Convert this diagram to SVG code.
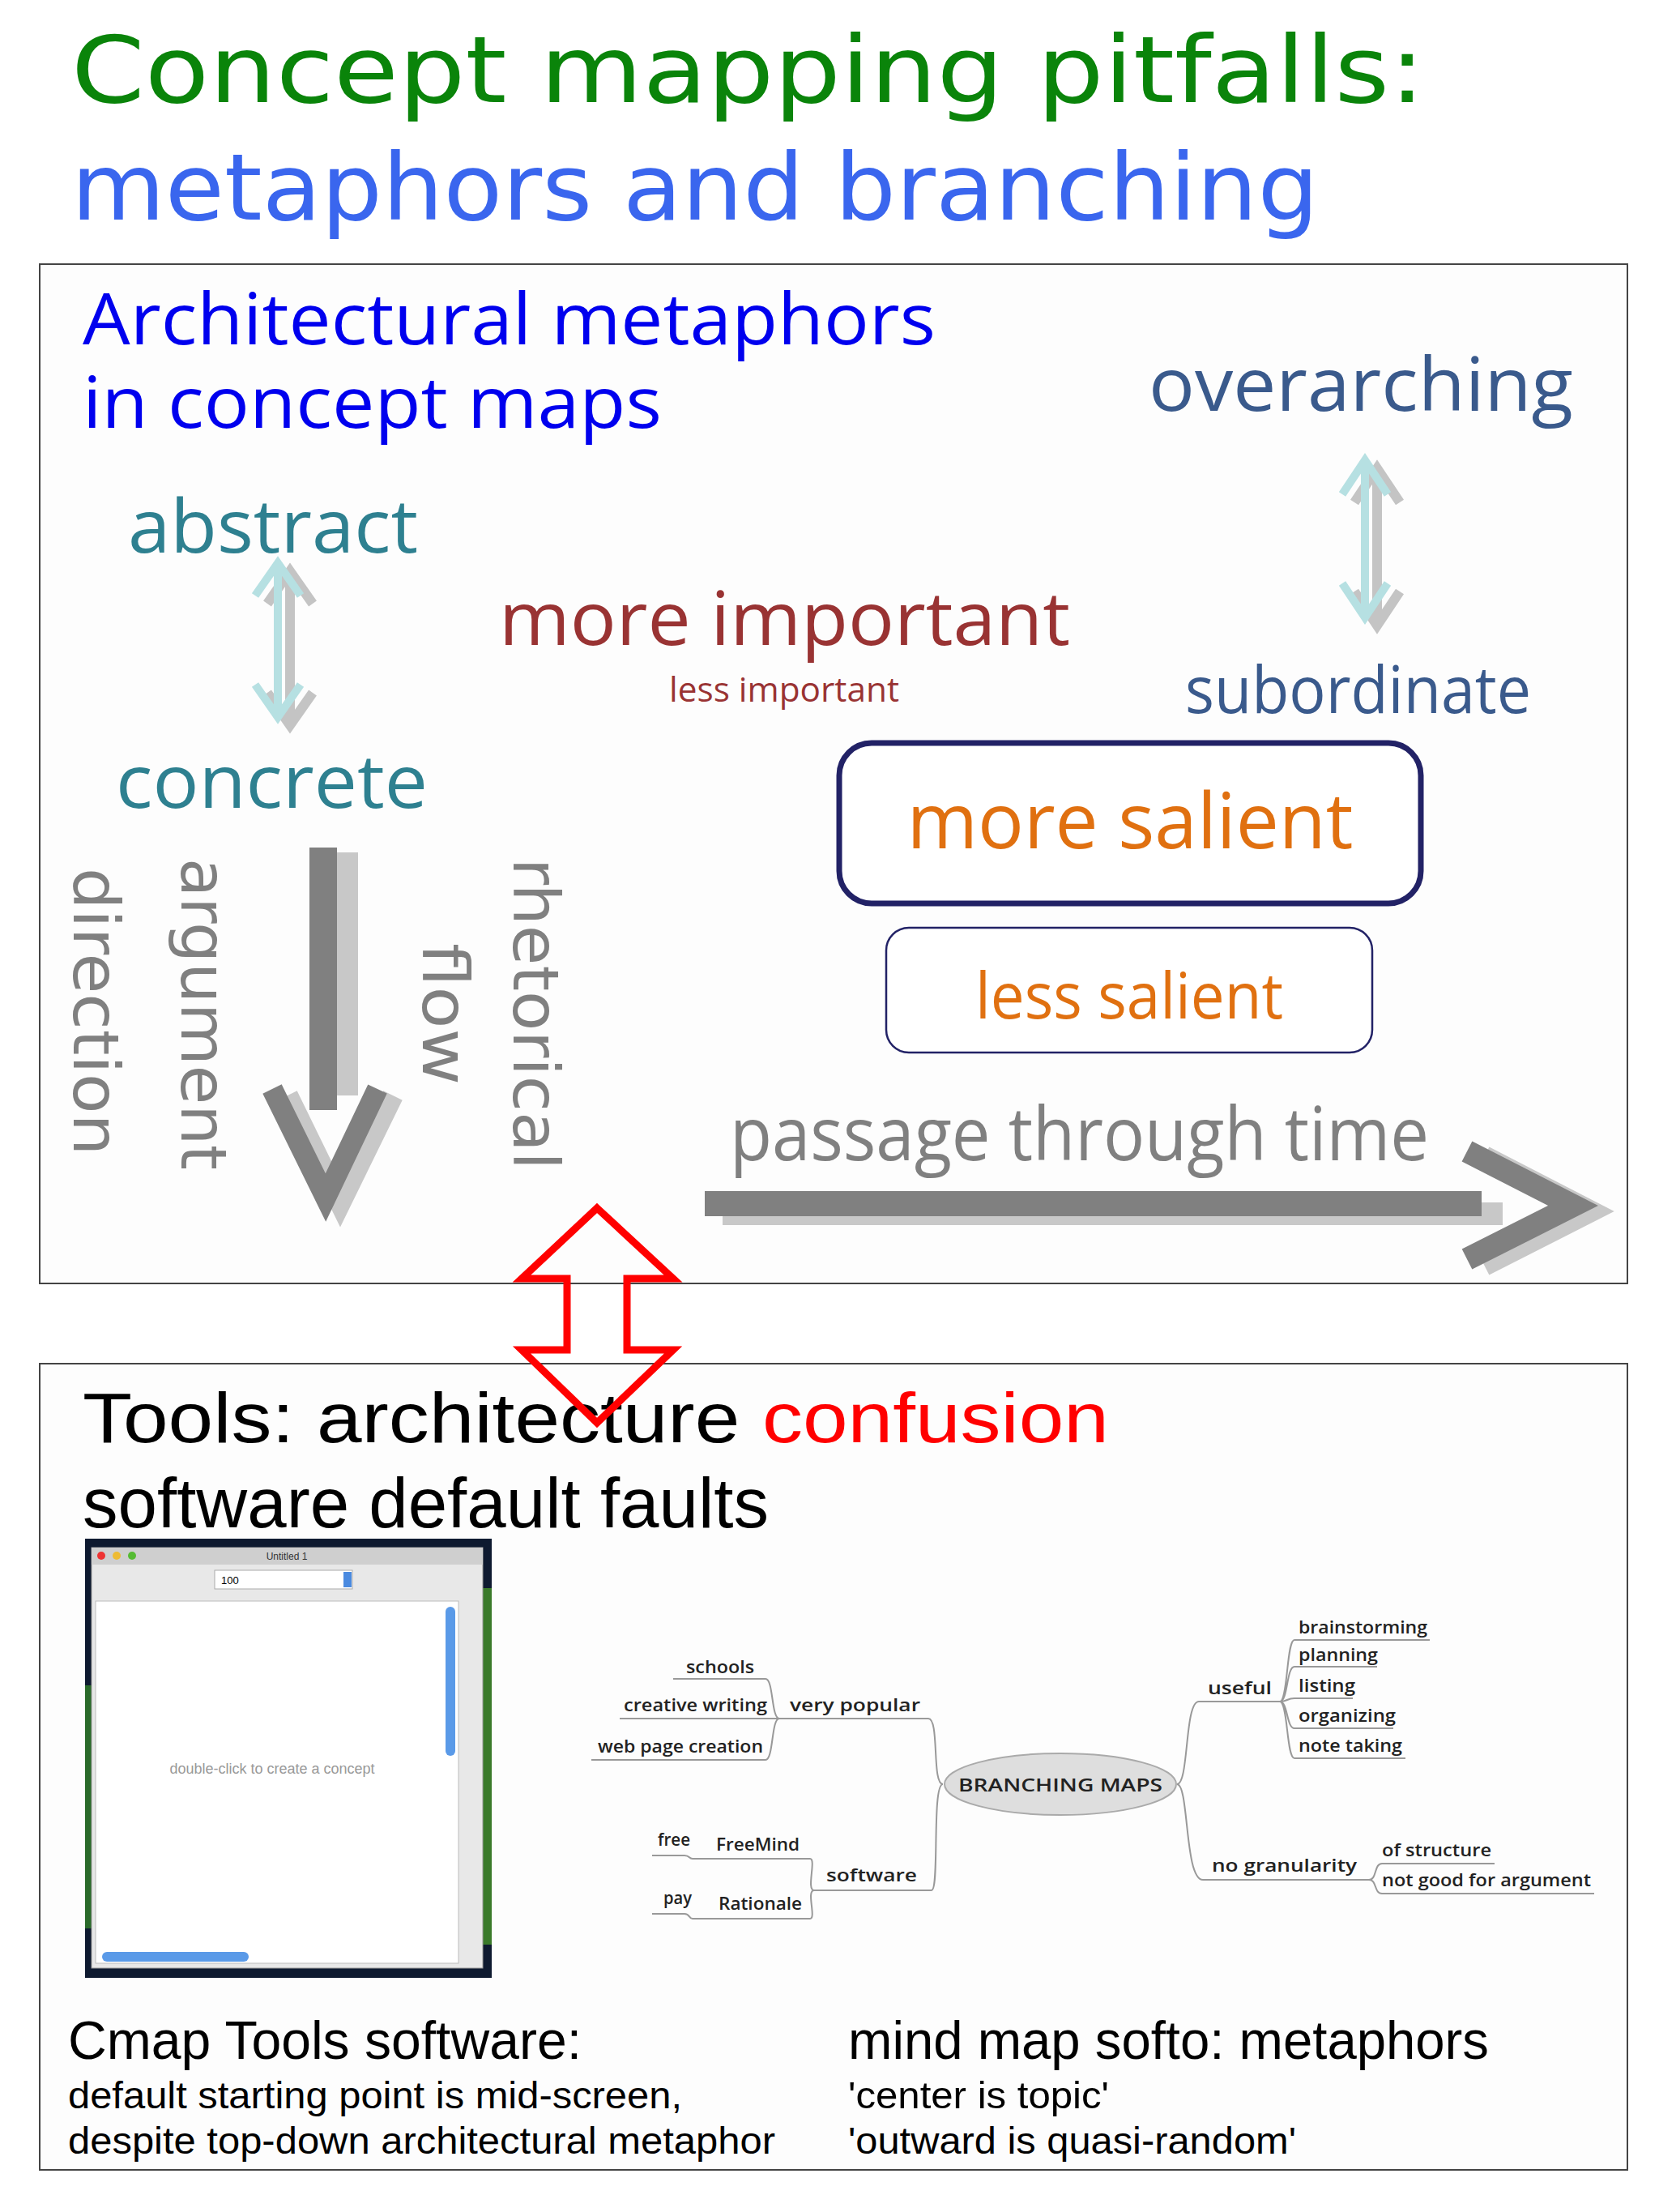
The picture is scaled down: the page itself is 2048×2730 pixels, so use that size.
<svg xmlns="http://www.w3.org/2000/svg" width="2048" height="2730" viewBox="0 0 2048 2730">
<style>
.dv{font-family:"DejaVu Sans",Verdana,sans-serif}
.cb{font-family:"Open Sans","Noto Sans",sans-serif}
.ar{font-family:"Liberation Sans",Arial,sans-serif}
.mm{font-family:"Open Sans","Noto Sans",sans-serif;font-size:22px;font-weight:600;fill:#222}
.ul{fill:none;stroke:#999;stroke-width:2}
.rot{fill:#808080;font-size:78px}
</style>
<rect width="2048" height="2730" fill="#fff"/>
<g id="title">
<text x="88" y="126" class="dv" font-size="114" fill="#0a840a" textLength="1671" lengthAdjust="spacingAndGlyphs">Concept mapping pitfalls:</text>
<text x="88" y="271" class="dv" font-size="114" fill="#3a66ee" textLength="1540" lengthAdjust="spacingAndGlyphs">metaphors and branching</text>
</g>
<g id="frame1">
<rect x="49" y="326" width="1960" height="1258" fill="#fdfdfd" stroke="#444" stroke-width="2"/>
<text x="102" y="425" class="cb" font-size="88" fill="#0000ee" textLength="1053" lengthAdjust="spacingAndGlyphs">Architectural metaphors</text>
<text x="102" y="528" class="cb" font-size="88" fill="#0000ee" textLength="715" lengthAdjust="spacingAndGlyphs">in concept maps</text>
<text x="1418" y="507" class="cb" font-size="92" fill="#3a5a8c" textLength="524" lengthAdjust="spacingAndGlyphs">overarching</text>
<text x="1463" y="880" class="cb" font-size="80" fill="#3a5a8c" textLength="427" lengthAdjust="spacingAndGlyphs">subordinate</text>
<text x="158" y="682" class="cb" font-size="92" fill="#2e8090" textLength="358" lengthAdjust="spacingAndGlyphs">abstract</text>
<text x="143" y="997" class="cb" font-size="92" fill="#2e8090" textLength="385" lengthAdjust="spacingAndGlyphs">concrete</text>
<text x="616" y="796" class="cb" font-size="92" fill="#993333" textLength="705" lengthAdjust="spacingAndGlyphs">more important</text>
<text x="826" y="866" class="cb" font-size="42" fill="#993333" textLength="284" lengthAdjust="spacingAndGlyphs">less important</text>
<text x="901" y="1432" class="cb" font-size="92" fill="#808080" textLength="863" lengthAdjust="spacingAndGlyphs">passage through time</text>
</g>
<g id="updown1">
<path d="M358 710 L358 890 M330 745 L358 705 L386 745 M330 855 L358 895 L386 855" fill="none" stroke="#c4c4c4" stroke-width="12"/>
<path d="M343 700 L343 880 M315 735 L343 695 L371 735 M315 845 L343 885 L371 845" fill="none" stroke="#b6e0e2" stroke-width="10"/>
</g>
<g id="updown2">
<path d="M1700 580 L1700 770 M1672 620 L1700 578 L1728 620 M1672 730 L1700 772 L1728 730" fill="none" stroke="#c4c4c4" stroke-width="12"/>
<path d="M1685 570 L1685 760 M1657 610 L1685 568 L1713 610 M1657 720 L1685 762 L1713 720" fill="none" stroke="#b6e0e2" stroke-width="10"/>
</g>
<g id="salient">
<rect x="1036" y="917" width="718" height="198" rx="40" fill="#fff" stroke="#222266" stroke-width="7"/>
<text x="1395" y="1047" class="cb" font-size="96" fill="#e07010" text-anchor="middle" textLength="551" lengthAdjust="spacingAndGlyphs">more salient</text>
<rect x="1094" y="1145" width="600" height="154" rx="28" fill="#fff" stroke="#222266" stroke-width="2.5"/>
<text x="1394" y="1257" class="cb" font-size="78" fill="#e07010" text-anchor="middle" textLength="380" lengthAdjust="spacingAndGlyphs">less salient</text>
</g>
<g id="vertical-labels" class="dv">
<text class="rot" transform="translate(91,1071) rotate(90)" textLength="355" lengthAdjust="spacingAndGlyphs">direction</text>
<text class="rot" transform="translate(224,1059) rotate(90)" textLength="385" lengthAdjust="spacingAndGlyphs">argument</text>
<text class="rot" transform="translate(522,1164) rotate(90)" textLength="175" lengthAdjust="spacingAndGlyphs">flow</text>
<text class="rot" transform="translate(634,1059) rotate(90)" textLength="385" lengthAdjust="spacingAndGlyphs">rhetorical</text>
</g>
<g id="downarrow">
<rect x="402" y="1052" width="40" height="300" fill="#c8c8c8"/>
<polyline points="355,1352 420,1485 485,1352" fill="none" stroke="#c8c8c8" stroke-width="26"/>
<rect x="382" y="1046" width="34" height="324" fill="#808080"/>
<polyline points="336,1344 402,1478 466,1344" fill="none" stroke="#808080" stroke-width="26"/>
</g>
<g id="timearrow">
<rect x="892" y="1484" width="963" height="28" fill="#c8c8c8"/>
<polyline points="1832,1428 1962,1495 1832,1561" fill="none" stroke="#c8c8c8" stroke-width="28"/>
<rect x="870" y="1470" width="959" height="31" fill="#808080"/>
<polyline points="1811,1421 1942,1488 1811,1554" fill="none" stroke="#808080" stroke-width="28"/>
</g>
<g id="frame2">
<rect x="49" y="1683" width="1960" height="995" fill="#fdfdfd" stroke="#444" stroke-width="2"/>
<text x="102" y="1780" class="ar" font-size="88" fill="#000" textLength="1267" lengthAdjust="spacingAndGlyphs">Tools: architecture <tspan fill="#f00">confusion</tspan></text>
<text x="102" y="1885" class="ar" font-size="88" fill="#000" textLength="847" lengthAdjust="spacingAndGlyphs">software default faults</text>
<text x="84" y="2541" class="ar" font-size="66" fill="#000" textLength="634" lengthAdjust="spacingAndGlyphs">Cmap Tools software:</text>
<text x="84" y="2602" class="ar" font-size="47" fill="#000" textLength="758" lengthAdjust="spacingAndGlyphs">default starting point is mid-screen,</text>
<text x="84" y="2658" class="ar" font-size="47" fill="#000" textLength="873" lengthAdjust="spacingAndGlyphs">despite top-down architectural metaphor</text>
<text x="1047" y="2541" class="ar" font-size="66" fill="#000" textLength="791" lengthAdjust="spacingAndGlyphs">mind map softo: metaphors</text>
<text x="1047" y="2602" class="ar" font-size="47" fill="#000" textLength="322" lengthAdjust="spacingAndGlyphs">'center is topic'</text>
<text x="1047" y="2658" class="ar" font-size="47" fill="#000" textLength="553" lengthAdjust="spacingAndGlyphs">'outward is quasi-random'</text>
</g>
<g id="redarrow">
<polygon points="737,1491 831,1578 774,1578 774,1666 831,1666 737,1756 644,1666 700,1666 700,1578 644,1578" fill="none" stroke="#f00" stroke-width="9" stroke-linejoin="miter"/>
</g>
<g id="screenshot">
<rect x="105" y="1899" width="502" height="542" fill="#0e1a30"/>
<rect x="105" y="2080" width="20" height="300" fill="#2a6a2a"/>
<rect x="596" y="1960" width="11" height="440" fill="#3a7a2a"/>
<rect x="113" y="1910" width="483" height="519" fill="#e8e8e8" stroke="#999"/>
<rect x="113" y="1910" width="483" height="21" fill="#cfcfcf"/>
<circle cx="125" cy="1920" r="5" fill="#e33"/>
<circle cx="144" cy="1920" r="5" fill="#eb3"/>
<circle cx="163" cy="1920" r="5" fill="#5b3"/>
<text x="354" y="1925" class="ar" font-size="12" fill="#333" text-anchor="middle">Untitled 1</text>
<rect x="265" y="1938" width="170" height="23" fill="#fff" stroke="#aaa"/>
<text x="273" y="1955" class="ar" font-size="13" fill="#000">100</text>
<rect x="424" y="1940" width="10" height="19" fill="#4a8ae0"/>
<rect x="118" y="1976" width="448" height="447" fill="#fff" stroke="#bbb"/>
<rect x="550" y="1983" width="12" height="184" rx="6" fill="#5a9ae8"/>
<rect x="126" y="2409" width="181" height="12" rx="6" fill="#5a9ae8"/>
<text x="336" y="2189" class="ar" font-size="18" fill="#999" text-anchor="middle">double-click to create a concept</text>
</g>
<g id="connectors">
<path class="ul" d="M1164,2202 C1150,2202 1160,2121 1146,2121 L962,2121 M962,2121 C952,2121 955,2072 945,2072 L831,2072 M962,2121 L765,2121 M962,2121 C952,2121 955,2172 945,2172 L730,2172"/>
<path class="ul" d="M1164,2202 C1150,2202 1160,2333 1150,2333 L1005,2333 M1005,2333 C995,2333 1008,2294 1000,2294 L870,2294 L855,2294 C850,2294 852,2290 845,2290 L805,2290 M1005,2333 C995,2333 1008,2368 1000,2368 L870,2368 L855,2368 C850,2368 852,2362 845,2362 L805,2362"/>
<path class="ul" d="M1453,2202 C1468,2202 1462,2100 1480,2100 L1580,2100 M1580,2100 C1590,2100 1588,2024 1598,2024 L1765,2024 M1580,2100 C1590,2100 1588,2057 1598,2057 L1700,2057 M1580,2100 C1590,2100 1588,2096 1598,2096 L1670,2096 M1580,2100 C1590,2100 1588,2133 1598,2133 L1720,2133 M1580,2100 C1590,2100 1588,2170 1598,2170 L1735,2170"/>
<path class="ul" d="M1453,2202 C1468,2202 1462,2320 1485,2320 L1690,2320 M1690,2320 C1700,2320 1696,2300 1706,2300 L1845,2300 M1690,2320 C1700,2320 1696,2337 1706,2337 L1968,2337"/>
</g>
<g id="mindmap">
<ellipse cx="1309" cy="2202" rx="143" ry="38" fill="#dedede" stroke="#aaa" stroke-width="2"/>
<text x="1309" y="2211" class="mm" font-size="25" text-anchor="middle" textLength="252" lengthAdjust="spacingAndGlyphs">BRANCHING MAPS</text>
<text x="975" y="2112" class="mm" textLength="161" lengthAdjust="spacingAndGlyphs">very popular</text>
<text x="847" y="2065" class="mm" textLength="84" lengthAdjust="spacingAndGlyphs">schools</text>
<text x="770" y="2112" class="mm" textLength="177" lengthAdjust="spacingAndGlyphs">creative writing</text>
<text x="738" y="2163" class="mm" textLength="204" lengthAdjust="spacingAndGlyphs">web page creation</text>
<text x="1020" y="2322" class="mm" textLength="112" lengthAdjust="spacingAndGlyphs">software</text>
<text x="884" y="2284" class="mm" textLength="103" lengthAdjust="spacingAndGlyphs">FreeMind</text>
<text x="812" y="2278" class="mm" font-size="19" textLength="40" lengthAdjust="spacingAndGlyphs">free</text>
<text x="887" y="2357" class="mm" textLength="103" lengthAdjust="spacingAndGlyphs">Rationale</text>
<text x="819" y="2350" class="mm" font-size="19" textLength="35" lengthAdjust="spacingAndGlyphs">pay</text>
<text x="1491" y="2091" class="mm" textLength="79" lengthAdjust="spacingAndGlyphs">useful</text>
<text x="1603" y="2016" class="mm" textLength="159" lengthAdjust="spacingAndGlyphs">brainstorming</text>
<text x="1603" y="2050" class="mm" textLength="98" lengthAdjust="spacingAndGlyphs">planning</text>
<text x="1603" y="2088" class="mm" textLength="70" lengthAdjust="spacingAndGlyphs">listing</text>
<text x="1603" y="2125" class="mm" textLength="120" lengthAdjust="spacingAndGlyphs">organizing</text>
<text x="1603" y="2162" class="mm" textLength="128" lengthAdjust="spacingAndGlyphs">note taking</text>
<text x="1496" y="2310" class="mm" textLength="179" lengthAdjust="spacingAndGlyphs">no granularity</text>
<text x="1706" y="2291" class="mm" textLength="135" lengthAdjust="spacingAndGlyphs">of structure</text>
<text x="1706" y="2328" class="mm" textLength="258" lengthAdjust="spacingAndGlyphs">not good for argument</text>
</g>
</svg>
